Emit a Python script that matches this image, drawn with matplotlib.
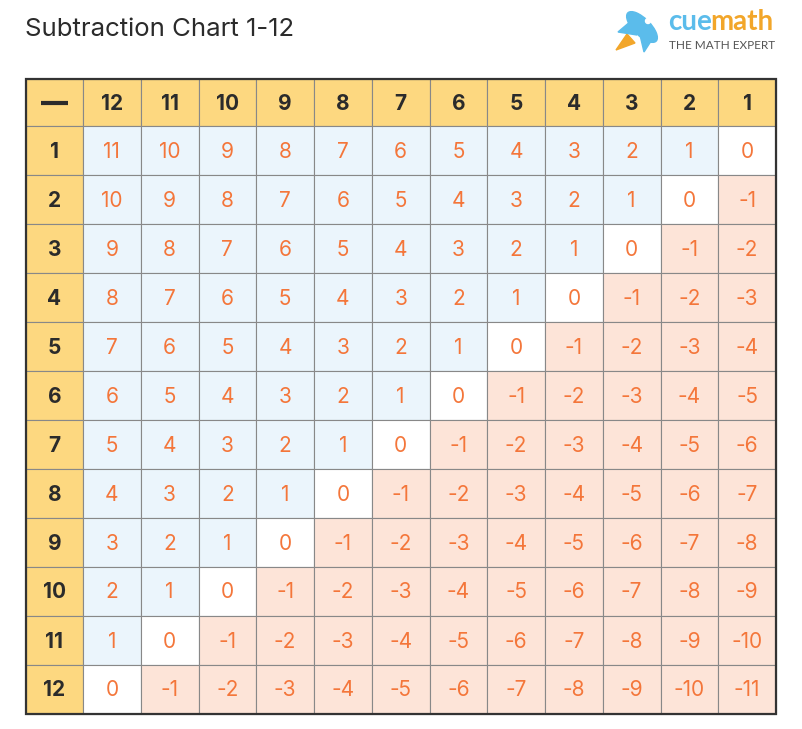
import matplotlib
matplotlib.use("Agg")
import matplotlib.pyplot as plt
from matplotlib.patches import Rectangle, Polygon, Ellipse

col_headers = [12, 11, 10, 9, 8, 7, 6, 5, 4, 3, 2, 1]
row_headers = [1, 2, 3, 4, 5, 6, 7, 8, 9, 10, 11, 12]
title = "Subtraction Chart 1-12"

W, H = 802, 729
fig = plt.figure(figsize=(W/100, H/100), dpi=100)
ax = fig.add_axes([0, 0, 1, 1])
ax.set_xlim(0, W); ax.set_ylim(H, 0); ax.axis("off")

YEL = "#FDD880"; BLUE = "#EBF5FC"; PINK = "#FDE4D8"; ORANGE = "#F4763A"; DARK = "#2B2B2B"
x0, x1 = 26, 776
y0, yh, y1 = 79, 126, 714
cw0 = 57
cw = (x1 - x0 - cw0) / 12
rh = (y1 - yh) / 12

def cell(x, y, w, h, fc, txt, color, bold, size):
    ax.add_patch(Rectangle((x, y), w, h, facecolor=fc, edgecolor="#888888", lw=0.8))
    ax.text(x + w/2, y + h/2 + 1, txt, ha="center", va="center", color=color,
            fontsize=size, fontweight="bold" if bold else "normal", family="Inter")

cell(x0, y0, cw0, yh - y0, YEL, "", DARK, True, 15)
ax.plot([x0 + 15, x0 + cw0 - 15], [y0 + (yh-y0)/2]*2, color=DARK, lw=3, solid_capstyle="butt")
for j, c in enumerate(col_headers):
    cell(x0 + cw0 + j*cw, y0, cw, yh - y0, YEL, str(c), DARK, True, 15)
for i, r in enumerate(row_headers):
    y = yh + i*rh
    cell(x0, y, cw0, rh, YEL, str(r), DARK, True, 15)
    for j, c in enumerate(col_headers):
        v = c - r
        fc = BLUE if v > 0 else ("white" if v == 0 else PINK)
        cell(x0 + cw0 + j*cw, y, cw, rh, fc, str(v), ORANGE, False, 15)
ax.add_patch(Rectangle((x0, y0), x1 - x0, y1 - y0, fill=False, edgecolor="#333333", lw=1.6))

ax.text(25, 29, title, ha="left", va="center", fontsize=18.5, color=DARK, family="Inter")

# logo
ax.add_patch(Polygon([[616, 50], [627, 34], [635, 43]], closed=True, color="#F2A62A"))
ax.add_patch(Ellipse((642, 27), 17, 40, angle=-45, color="#5BBCEB"))
ax.add_patch(Polygon([[618, 32], [631, 21], [637, 35]], closed=True, color="#5BBCEB"))
ax.add_patch(Polygon([[644, 52], [653, 38], [640, 35]], closed=True, color="#5BBCEB"))
ax.add_patch(Ellipse((648, 21), 5, 5, color="white"))
ax.text(668, 22, "cue", ha="left", va="center", fontsize=20, color="#5BBCEB", family="Lato", fontweight="bold")
ax.text(710, 22, "math", ha="left", va="center", fontsize=20, color="#F2A62A", family="Lato", fontweight="bold")
ax.text(669, 45, "THE MATH EXPERT", ha="left", va="center", fontsize=8.5, color="#555555", family="Lato")

fig.savefig("out.png", dpi=100)
